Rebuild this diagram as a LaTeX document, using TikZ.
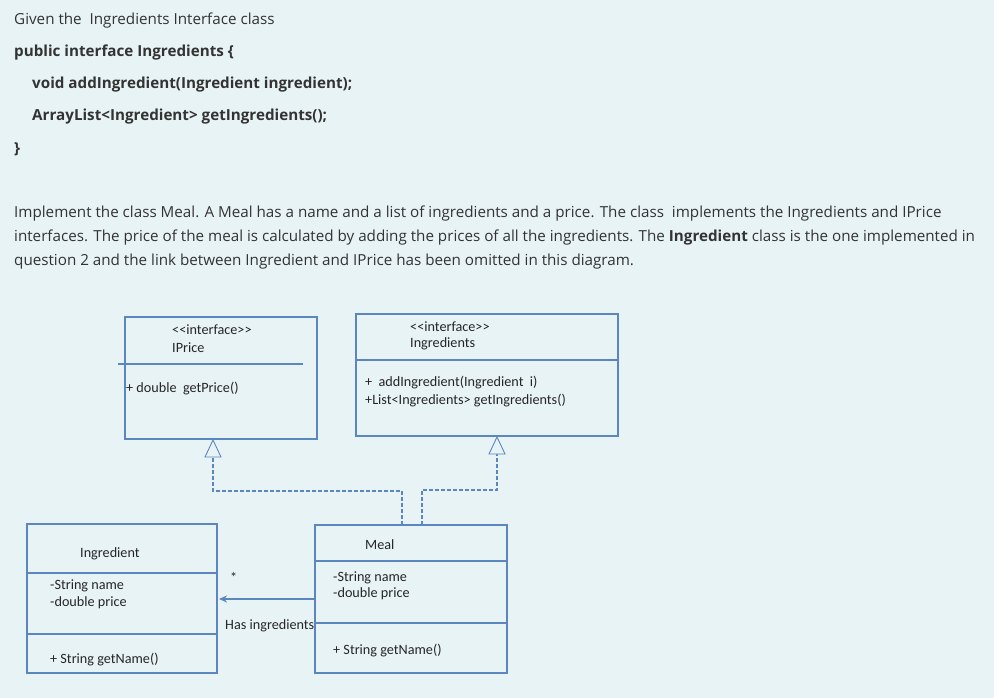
\documentclass[tikz,border=0pt]{standalone}
\usepackage{fontspec}
\setmainfont{Open Sans}
\newfontfamily\diag{Carlito}
\usetikzlibrary{arrows.meta}
\definecolor{bg}{HTML}{E8F3F6}
\definecolor{bl}{HTML}{5B86C0}
\definecolor{tx}{HTML}{333333}
\begin{document}
\begin{tikzpicture}[x=1pt,y=-1pt,
  t/.style={anchor=west,inner sep=0pt,text=tx,font=\fontsize{15.2}{18}\selectfont},
  tb/.style={t,font=\fontsize{15.2}{18}\selectfont\bfseries},
  d/.style={anchor=west,inner sep=0pt,text=black!85,font=\diag\fontsize{14.2}{16}\selectfont},
  box/.style={draw=bl,line width=1.1pt},
  dl/.style={draw=bl,line width=1.4pt},
  dashline/.style={draw=bl,line width=1.3pt,dash pattern=on 4pt off 2pt},
  tri/.style={draw=bl,fill=bg,line width=0.9pt}]
\useasboundingbox[fill=bg] (0,0) rectangle (994,698);
\node[t] (l1) at (14,21) {Given the\ \ Ingredients Interface class};
\node[tb] (l2) at (14,53) {public interface Ingredients \{};
\node[tb] (l3) at (32,85) {void addIngredient(Ingredient ingredient);};
\node[tb] (l4) at (32,117) {ArrayList<Ingredient> getIngredients();};
\node[tb] (l5) at (14,149) {\}};
\node[t] (p1) at (14,214) {Implement the class Meal. A Meal has a name and a list of ingredients and a price. The class\ \ implements the Ingredients and IPrice};
\node[t] (p2) at (14,238) {interfaces. The price of the meal is calculated by adding the prices of all the ingredients. The \textbf{Ingredient} class is the one implemented in};
\node[t] (p3) at (14,262) {question 2 and the link between Ingredient and IPrice has been omitted in this diagram.};
% IPrice
\draw[box] (125,317) rectangle (317,439);
\draw[dl] (118,364) -- (303,364);
\node[d] (ip1) at (172,330) {<<interface>>};
\node[d] (ip2) at (172,348) {IPrice};
\node[d] (ip3) at (126,389) {+ double\ \ getPrice()};
% Ingredients
\draw[box] (356,314) rectangle (618,436);
\draw[dl] (356,360) -- (618,360);
\node[d] (in1) at (410,327) {<<interface>>};
\node[d] (in2) at (410,344) {Ingredients};
\node[d] (in3) at (365,383) {+\ \ addIngredient(Ingredient\ \ i)};
\node[d] (in4) at (365,401) {+List<Ingredients> getIngredients()};
% Ingredient
\draw[box] (27,524) rectangle (217,673);
\draw[dl] (27,573) -- (217,573);
\draw[dl] (27,634) -- (217,634);
\node[d] (g1) at (80,554) {Ingredient};
\node[d] (g2) at (50,586) {-String name};
\node[d] (g3) at (50,603) {-double price};
\node[d] (g4) at (50,660) {+ String getName()};
% Meal
\draw[box] (315,525) rectangle (507,673);
\draw[dl] (315,561) -- (507,561);
\draw[dl] (315,623) -- (507,623);
\node[d] (m1) at (365,545) {Meal};
\node[d] (m2) at (333,578) {-String name};
\node[d] (m3) at (333,594) {-double price};
\node[d] (m4) at (333,651) {+ String getName()};
% realizations
\coordinate (a1) at (213,457);
\coordinate (a2) at (497,454);
\draw[dashline] (402,525) -- (402,491) -- (213,491) -- (a1);
\draw[dashline] (422,525) -- (422,490) -- (497,490) -- (a2);
\draw[tri] (213,440) -- (221,457) -- (205,457) -- cycle;
\draw[tri] (497,437) -- (505,454) -- (489,454) -- cycle;
% association
\coordinate (s) at (315,599);
\coordinate (e) at (219,599);
\draw[dl,-{Stealth[length=8pt,width=7pt]}] (s) -- (e);
\node[d] (st) at (230,577) {*};
\node[d] (hi) at (225,626) {Has ingredients};
\end{tikzpicture}
\end{document}
